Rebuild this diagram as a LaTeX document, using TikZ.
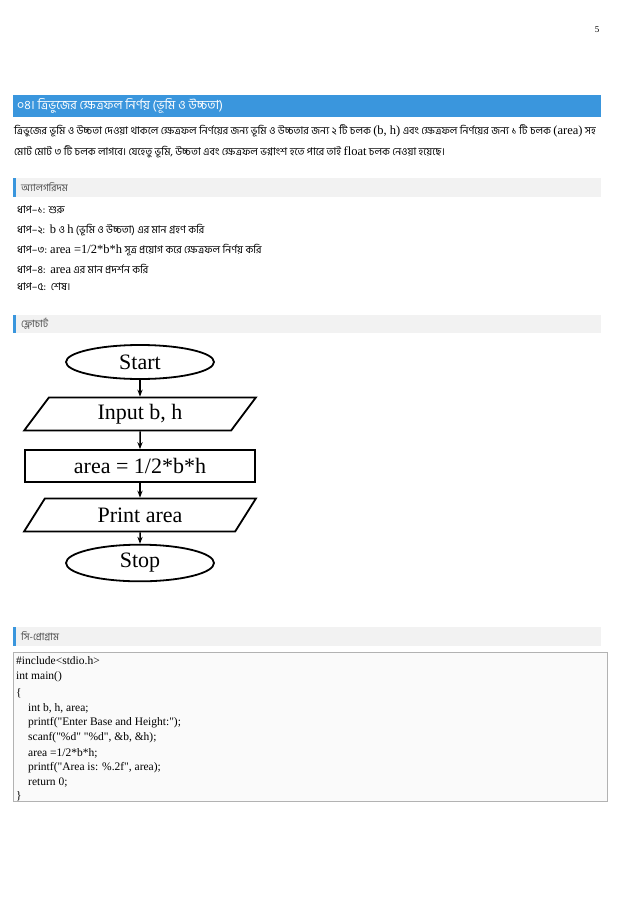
\documentclass[tikz,border=0pt]{standalone}
\usepackage{fontspec}
\setmainfont{Liberation Serif}
\newfontfamily\bn[Script=Bengali]{Hind Siliguri}
\usetikzlibrary{shapes.geometric,arrows.meta}
\definecolor{hdblue}{HTML}{3A96DD}
\definecolor{barbg}{HTML}{F2F2F2}
\newcommand{\qt}{\XeTeXglyph\XeTeXcharglyph"22\relax}
\tikzset{
  bntext/.style={anchor=west, inner sep=0pt, font=\bn\fontsize{10.5}{12}\selectfont},
  bartitle/.style={anchor=west, inner sep=0pt, font=\bn\itshape\fontsize{10}{12}\selectfont, text=black!70},
  term/.style={draw, line width=1.8pt, ellipse, minimum width=148pt, minimum height=34pt, font=\fontsize{22}{24}\selectfont},
  io/.style={draw, line width=1.8pt, trapezium, trapezium left angle=65, trapezium right angle=115, minimum width=232pt, minimum height=33pt, font=\fontsize{22}{24}\selectfont, trapezium stretches=true},
  proc/.style={draw, line width=1.8pt, rectangle, minimum width=230pt, minimum height=32pt, font=\fontsize{22}{24}\selectfont},
  codeline/.style={anchor=west, inner sep=0pt, font=\fontsize{11.5}{13}\selectfont}
}
\begin{document}
\begin{tikzpicture}[x=1pt,y=-1pt]
\useasboundingbox (0,0) rectangle (638,902);
\fill[white] (0,0) rectangle (638,902);
\node[font=\fontsize{9}{11}\selectfont] (pg) at (597,30) {5};
% header
\fill[hdblue] (13,95) rectangle (601,117);
\node[bntext, text=white, font=\bn\fontsize{12.5}{14}\selectfont] (hd) at (17,106) {০৪। ত্রিভুজের ক্ষেত্রফল নির্ণয় (ভূমি ও উচ্চতা)};
\node[bntext] (p1) at (14,131) {ত্রিভুজের ভূমি ও উচ্চতা দেওয়া থাকলে ক্ষেত্রফল নির্ণয়ের জন্য ভূমি ও উচ্চতার জন্য ২ টি চলক {\rmfamily\fontsize{12.5}{13}\selectfont (b, h)} এবং ক্ষেত্রফল নির্ণয়ের জন্য ১ টি চলক {\rmfamily\fontsize{12.5}{13}\selectfont (area)} সহ};
\node[bntext] (p2) at (14,152) {মোট মোট ৩ টি চলক লাগবে। যেহেতু ভূমি, উচ্চতা এবং ক্ষেত্রফল ভগ্নাংশ হতে পারে তাই {\rmfamily\fontsize{12.5}{13}\selectfont float} চলক নেওয়া হয়েছে।};
% algorithm
\fill[barbg] (13,178) rectangle (601,197);
\fill[hdblue] (13,178) rectangle (16,197);
\node[bartitle] (alg) at (21,187.5) {অ্যালগরিদম};
\node[bntext] (s1) at (17,210) {ধাপ–১: শুরু};
\node[bntext] (s2) at (17,230) {ধাপ–২:\ \ {\rmfamily\fontsize{12.5}{13}\selectfont b} ও {\rmfamily\fontsize{12.5}{13}\selectfont h} (ভূমি ও উচ্চতা) এর মান গ্রহণ করি};
\node[bntext] (s3) at (17,250) {ধাপ–৩: {\rmfamily\fontsize{12.5}{13}\selectfont area =1/2*b*h} সূত্র প্রয়োগ করে ক্ষেত্রফল নির্ণয় করি};
\node[bntext] (s4) at (17,269) {ধাপ–৪:\ \ {\rmfamily\fontsize{12.5}{13}\selectfont area} এর মান প্রদর্শন করি};
\node[bntext] (s5) at (17,287) {ধাপ–৫:\ \ শেষ।};
% flowchart
\fill[barbg] (13,315) rectangle (601,333);
\fill[hdblue] (13,315) rectangle (16,333);
\node[bartitle] (fc) at (21,324) {ফ্লোচার্ট};
\node[term] (start) at (140,362) {Start};
\node[io] (inp) at (140,414) {Input b, h};
\node[proc] (area) at (140,466) {area = 1/2*b*h};
\node[io] (prt) at (140,515) {Print area};
\node[term, minimum height=30pt] (stop) at (140,563) {Stop};
\draw[line width=1.5pt, -{Stealth[length=7pt]}] (start) -- (inp);
\draw[line width=1.5pt, -{Stealth[length=7pt]}] (inp) -- (area);
\draw[line width=1.5pt, -{Stealth[length=7pt]}] (area) -- (prt);
\draw[line width=1.5pt, -{Stealth[length=7pt]}] (prt) -- (stop);
% program
\fill[barbg] (13,627) rectangle (601,646);
\fill[hdblue] (13,627) rectangle (16,646);
\node[bartitle] (cp) at (21,636.5) {সি-প্রোগ্রাম};
\draw[black!30, fill=black!2] (13,652) rectangle (607,801);
\node[codeline] (c1) at (16,661) {\#include<stdio.h>};
\node[codeline] (c2) at (16,677) {int main()};
\node[codeline] (c3) at (16,693) {\{};
\node[codeline] (c4) at (28,708) {int b, h, area;};
\node[codeline] (c5) at (28,723) {printf(\qt Enter Base and Height:\qt);};
\node[codeline] (c6) at (28,738) {scanf(\qt\%d\qt\ \qt\%d\qt, \&b, \&h);};
\node[codeline] (c7) at (28,753) {area =1/2*b*h;};
\node[codeline] (c8) at (28,768) {printf(\qt Area is: \%.2f\qt, area);};
\node[codeline] (c9) at (28,783) {return 0;};
\node[codeline] (c10) at (16,796) {\}};
\end{tikzpicture}
\end{document}
